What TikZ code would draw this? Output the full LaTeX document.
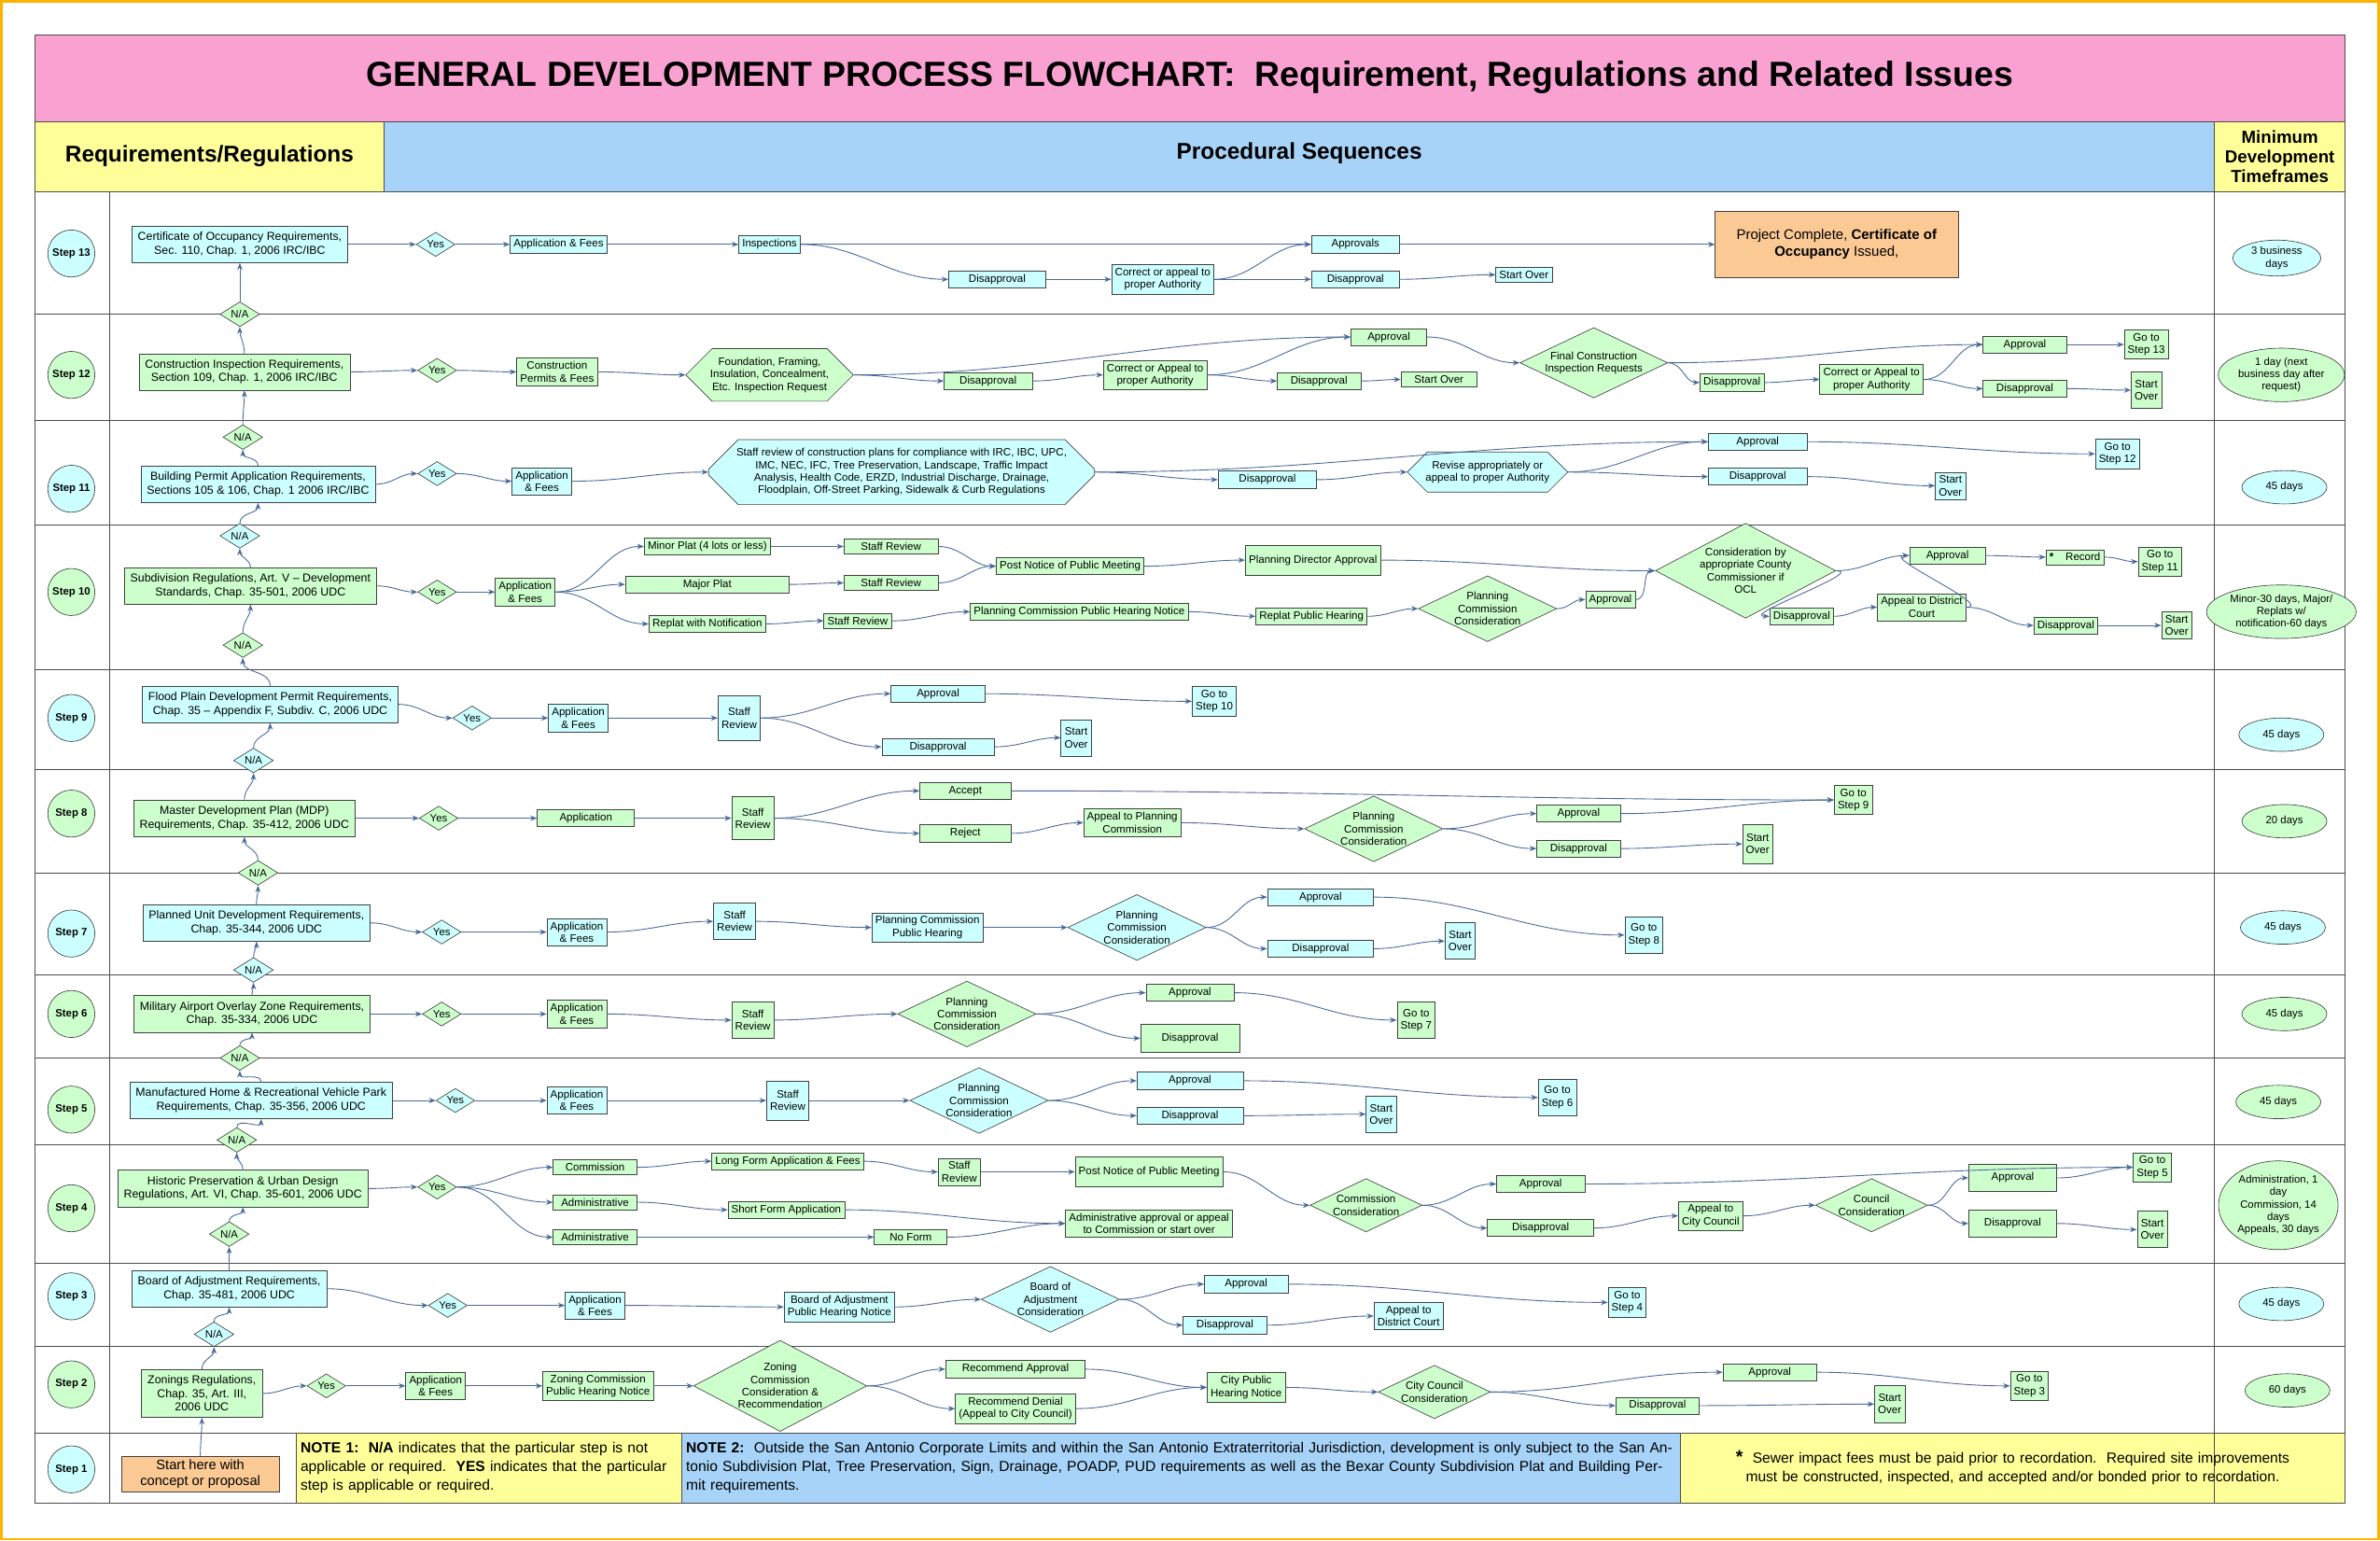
\documentclass[tikz,border=0pt]{standalone}
\usepackage{fontspec}
\setmainfont{Liberation Sans}
\usetikzlibrary{shapes.geometric,shapes.misc,arrows.meta}
\definecolor{pinkT}{HTML}{F9A2D2}
\definecolor{yelH}{HTML}{FFFF99}
\definecolor{bluH}{HTML}{A6D3F7}
\definecolor{cyF}{HTML}{CCFFFF}
\definecolor{grF}{HTML}{CCFFCC}
\definecolor{orF}{HTML}{FBC994}
\definecolor{linec}{HTML}{4A6A9A}
\newcommand\edg[2]{\draw[fl] (#1.east) to[out=0,in=180] (#2.west);}
\tikzset{
 base/.style={draw=black!75,line width=0.4pt,align=center,inner sep=2.3pt,font=\fontsize{7.1}{8.2}\selectfont},
 cb/.style={base,fill=cyF},
 gb/.style={base,fill=grF},
 rq/.style={base,inner sep=4pt,font=\fontsize{7.6}{9}\selectfont},
 dia/.style={base,diamond,aspect=2.1,inner sep=0.3pt},
 hexa/.style={base,chamfered rectangle,chamfered rectangle xsep=16pt},
 yn/.style={base,diamond,aspect=1.6,inner sep=1.2pt,font=\fontsize{7}{8}\selectfont},
 stp/.style={draw=black!75,circle,minimum size=31pt,inner sep=0pt,font=\bfseries\fontsize{7}{8}\selectfont},
 tf/.style={draw=black!75,ellipse,inner sep=1pt,align=center,minimum height=22pt,font=\fontsize{7}{8.2}\selectfont},
 fl/.style={-{Stealth[length=4.5pt,width=3.5pt]},draw=linec,line width=0.55pt},
}
\begin{document}
\begin{tikzpicture}[x=1pt,y=-1pt]
\useasboundingbox (0,0) rectangle (1568,1015);
\draw[draw=orange!60!yellow,line width=1.5pt] (1,1) rectangle (1567,1014);
% bands
\fill[pinkT] (23,23) rectangle (1545,80);
\node[font=\bfseries\fontsize{23}{27}\selectfont] (title) at (784,51) {GENERAL DEVELOPMENT PROCESS FLOWCHART:\ \ Requirement, Regulations and Related Issues};
\fill[yelH] (23,80) rectangle (253,126);
\fill[bluH] (253,80) rectangle (1459,126);
\fill[yelH] (1459,80) rectangle (1545,126);
\node[font=\bfseries\fontsize{15}{18}\selectfont] (hreq) at (138,103) {Requirements/Regulations};
\node[font=\bfseries\fontsize{15}{18}\selectfont] (hproc) at (856,101) {Procedural Sequences};
\node[font=\bfseries\fontsize{11.5}{13}\selectfont,align=center] (htime) at (1502,103) {Minimum\\Development\\Timeframes};
\fill[yelH] (195,944) rectangle (449,990);
\fill[bluH] (449,944) rectangle (1107,990);
\fill[yelH] (1107,944) rectangle (1545,990);
% grid
\draw[black!70,line width=0.5pt] (23,23) rectangle (1545,990);
\foreach \y in {80,126,207,277,346,441,507,575,642,697,754,832,887,944} \draw[black!70,line width=0.5pt] (23,\y) -- (1545,\y);
\draw[black!70,line width=0.5pt] (253,80) -- (253,126) (1459,80) -- (1459,990) (72,126) -- (72,990) (195,944)--(195,990) (449,944)--(449,990) (1107,944)--(1107,990);
% step circles
\foreach \n/\y/\c in {13/167/cyF,12/247/grF,11/322/cyF,10/390/grF,9/473/cyF,8/536/grF,7/615/cyF,6/668/grF,5/731/grF,4/796/grF,3/854/cyF,2/912/grF,1/968/cyF}
  \node[stp,fill=\c] (s\n) at (47,\y) {Step \n};
% timeframes
\node[tf,fill=cyF,minimum width=58pt] (t13) at (1500,170) {3 business\\days};
\node[tf,fill=grF] (t12) at (1503,247) {1 day (next\\business day after\\request)};
\node[tf,fill=cyF,minimum width=56pt] (t11) at (1505,321) {45 days};
\node[tf,fill=grF] (t10) at (1503,403) {Minor-30 days, Major/\\Replats w/\\notification-60 days};
\node[tf,fill=cyF,minimum width=56pt] (t9) at (1503,484) {45 days};
\node[tf,fill=grF,minimum width=56pt] (t8) at (1505,541) {20 days};
\node[tf,fill=cyF,minimum width=56pt] (t7) at (1504,611) {45 days};
\node[tf,fill=grF,minimum width=56pt] (t6) at (1505,668) {45 days};
\node[tf,fill=grF,minimum width=56pt] (t5) at (1501,726) {45 days};
\node[tf,fill=grF] (t4) at (1501,794) {Administration, 1\\day\\Commission, 14\\days\\Appeals, 30 days};
\node[tf,fill=cyF,minimum width=56pt] (t3) at (1503,859) {45 days};
\node[tf,fill=grF,minimum width=56pt] (t2) at (1507,916) {60 days};
% notes
\node[base,draw=black!75,fill=orF,font=\fontsize{9}{10.5}\selectfont,minimum width=104pt] (st1) at (132,971) {Start here with\\concept or proposal};
\node[text width=248pt,align=left,font=\fontsize{9.6}{12.5}\selectfont] (n1) at (322,967) {\textbf{NOTE 1:\ \ N/A} indicates that the particular step is not applicable or required.\ \ \textbf{YES} indicates that the particular step is applicable or required.};
\node[text width=652pt,align=left,font=\fontsize{9.6}{12.5}\selectfont] (n2) at (778,967) {\textbf{NOTE 2:}\ \ Outside the San Antonio Corporate Limits and within the San Antonio Extraterritorial Jurisdiction, development is only subject to the San Antonio Subdivision Plat, Tree Preservation, Sign, Drainage, POADP, PUD requirements as well as the Bexar County Subdivision Plat and Building Permit requirements.};
\node[text width=430pt,align=center,font=\fontsize{9.6}{12.5}\selectfont] (n3) at (1326,967) {\textbf{\large *}\ \ Sewer impact fees must be paid prior to recordation.\ \ Required site improvements must be constructed, inspected, and accepted and/or bonded prior to recordation.};

% ---------- Row 13
\node[rq,fill=cyF] (r13) at (158,161) {Certificate of Occupancy Requirements,\\Sec. 110, Chap. 1, 2006 IRC/IBC};
\node[yn,fill=cyF] (y13) at (287,161) {Yes};
\node[cb] (a13) at (368,161) {Application \& Fees};
\node[cb] (i13) at (507,161) {Inspections};
\node[cb,minimum width=58pt] (ap13) at (893,161) {Approvals};
\node[cb,minimum width=64pt] (d13a) at (657,184) {Disapproval};
\node[cb] (c13) at (766,184) {Correct or appeal to\\proper Authority};
\node[cb,minimum width=58pt] (d13b) at (893,184) {Disapproval};
\node[cb] (s13) at (1004,181) {Start Over};
\node[base,fill=orF,font=\fontsize{9.2}{11}\selectfont,minimum width=160pt,minimum height=44pt] (pc13) at (1210,161) {Project Complete, \textbf{Certificate of}\\\textbf{Occupancy} Issued,};
\edg{r13}{y13}\edg{y13}{a13}\edg{a13}{i13}\edg{i13}{ap13}\edg{i13}{d13a}\edg{d13a}{c13}\edg{c13}{ap13}\edg{c13}{d13b}\edg{d13b}{s13}\edg{ap13}{pc13}
% ---------- Row 12
\node[rq,fill=grF] (r12) at (161,245) {Construction Inspection Requirements,\\Section 109, Chap. 1, 2006 IRC/IBC};
\node[yn,fill=grF] (y12) at (288,244) {Yes};
\node[gb] (a12) at (367,245) {Construction\\Permits \& Fees};
\node[hexa,fill=grF] (h12) at (507,247) {Foundation, Framing,\\Insulation, Concealment,\\Etc. Inspection Request};
\node[gb,minimum width=50pt] (ap12) at (915,222) {Approval};
\node[gb,minimum width=58pt] (d12a) at (651,251) {Disapproval};
\node[gb] (c12) at (761,247) {Correct or Appeal to\\proper Authority};
\node[gb,minimum width=55pt] (d12b) at (869,251) {Disapproval};
\node[gb,minimum width=50pt] (s12) at (948,250) {Start Over};
\node[dia,fill=grF] (f12) at (1050,239) {Final Construction\\Inspection Requests};
\node[gb,minimum width=55pt] (ap12b) at (1334,227) {Approval};
\node[gb] (d12c) at (1141,252) {Disapproval};
\node[gb] (c12b) at (1233,250) {Correct or Appeal to\\proper Authority};
\node[gb,minimum width=55pt] (d12d) at (1334,256) {Disapproval};
\node[gb] (g12) at (1414,227) {Go to\\Step 13};
\node[gb,minimum height=24pt] (s12b) at (1414,257) {Start\\Over};
\edg{r12}{y12}\edg{y12}{a12}\edg{a12}{h12}\edg{h12}{ap12}\edg{h12}{d12a}\edg{d12a}{c12}\edg{c12}{ap12}\edg{c12}{d12b}\edg{d12b}{s12}\edg{ap12}{f12}\edg{f12}{ap12b}\edg{f12}{d12c}\edg{d12c}{c12b}\edg{c12b}{ap12b}\edg{c12b}{d12d}\edg{ap12b}{g12}\edg{d12d}{s12b}
% ---------- Row 11
\node[rq,fill=cyF] (r11) at (170,319) {Building Permit Application Requirements,\\Sections 105 \& 106, Chap. 1 2006 IRC/IBC};
\node[yn,fill=cyF] (y11) at (288,312) {Yes};
\node[cb] (a11) at (357,317) {Application\\\& Fees};
\node[hexa,fill=cyF] (h11) at (594,311) {Staff review of construction plans for compliance with IRC, IBC, UPC,\\IMC, NEC, IFC, Tree Preservation, Landscape, Traffic Impact\\Analysis, Health Code, ERZD, Industrial Discharge, Drainage,\\Floodplain, Off-Street Parking, Sidewalk \& Curb Regulations};
\node[cb,minimum width=65pt] (d11) at (835,316) {Disapproval};
\node[hexa,fill=cyF] (rv11) at (980,311) {Revise appropriately or\\appeal to proper Authority};
\node[cb,minimum width=65pt] (ap11) at (1158,291) {Approval};
\node[cb,minimum width=65pt] (d11b) at (1158,314) {Disapproval};
\node[cb] (g11) at (1395,299) {Go to\\Step 12};
\node[cb] (s11) at (1285,320) {Start\\Over};
\edg{r11}{y11}\edg{y11}{a11}\edg{a11}{h11}\edg{h11}{ap11}\edg{h11}{d11}\edg{d11}{rv11}\edg{rv11}{ap11}\edg{rv11}{d11b}\edg{ap11}{g11}\edg{d11b}{s11}
% ---------- Row 10
\node[rq,fill=grF] (r10) at (165,386) {Subdivision Regulations, Art. V -- Development\\Standards, Chap. 35-501, 2006 UDC};
\node[yn,fill=grF] (y10) at (288,390) {Yes};
\node[gb] (a10) at (346,390) {Application\\\& Fees};
\node[gb] (mi10) at (466,360) {Minor Plat (4 lots or less)};
\node[gb,minimum width=108pt] (ma10) at (466,385) {Major Plat};
\node[gb] (re10) at (466,411) {Replat with Notification};
\node[gb,minimum width=62pt] (sr10a) at (587,360) {Staff Review};
\node[gb,minimum width=62pt] (sr10b) at (587,384) {Staff Review};
\node[gb] (sr10c) at (565,409) {Staff Review};
\node[gb] (pn10) at (705,373) {Post Notice of Public Meeting};
\node[gb] (ph10) at (711,403) {Planning Commission Public Hearing Notice};
\node[gb,minimum height=20pt] (pd10) at (865,369) {Planning Director Approval};
\node[gb] (rp10) at (864,406) {Replat Public Hearing};
\node[dia,fill=grF] (pc10) at (980,401) {Planning\\Commission\\Consideration};
\node[gb] (ap10) at (1061,395) {Approval};
\node[dia,fill=grF,aspect=1.9] (cc10) at (1150,376) {Consideration by\\appropriate County\\Commissioner if\\OCL};
\node[gb] (d10) at (1187,406) {Disapproval};
\node[gb,minimum width=50pt] (ap10b) at (1283,366) {Approval};
\node[gb] (ad10) at (1266,400) {Appeal to District\\Court};
\node[gb] (rec10) at (1367,367) {\textbf{*}\ \ \ \ Record};
\node[gb] (g10) at (1423,370) {Go to\\Step 11};
\node[gb] (d10b) at (1361,412) {Disapproval};
\node[gb] (s10) at (1434,412) {Start\\Over};
\edg{r10}{y10}\edg{y10}{a10}\edg{a10}{mi10}\edg{a10}{ma10}\edg{a10}{re10}\edg{mi10}{sr10a}\edg{ma10}{sr10b}\edg{re10}{sr10c}\edg{sr10a}{pn10}\edg{sr10b}{pn10}\edg{sr10c}{ph10}\edg{pn10}{pd10}\edg{ph10}{rp10}\edg{rp10}{pc10}\edg{pd10}{cc10}\edg{pc10}{ap10}\edg{ap10}{cc10}\edg{cc10}{ap10b}\edg{cc10}{d10}\edg{d10}{ad10}\edg{ad10}{ap10b}\edg{ad10}{d10b}\edg{ap10b}{rec10}\edg{rec10}{g10}\edg{d10b}{s10}
% ---------- Row 9
\node[rq,fill=cyF] (r9) at (178,464) {Flood Plain Development Permit Requirements,\\Chap. 35 -- Appendix F, Subdiv. C, 2006 UDC};
\node[yn,fill=cyF] (y9) at (311,473) {Yes};
\node[cb] (a9) at (381,473) {Application\\\& Fees};
\node[cb,minimum height=30pt] (sr9) at (487,473) {Staff\\Review};
\node[cb,minimum width=62pt] (ap9) at (618,457) {Approval};
\node[cb,minimum width=74pt] (d9) at (618,492) {Disapproval};
\node[cb] (g9) at (800,462) {Go to\\Step 10};
\node[cb,minimum height=24pt] (s9) at (709,486) {Start\\Over};
\edg{r9}{y9}\edg{y9}{a9}\edg{a9}{sr9}\edg{sr9}{ap9}\edg{sr9}{d9}\edg{ap9}{g9}\edg{d9}{s9}
% ---------- Row 8
\node[rq,fill=grF] (r8) at (161,539) {Master Development Plan (MDP)\\Requirements, Chap. 35-412, 2006 UDC};
\node[yn,fill=grF] (y8) at (289,539) {Yes};
\node[gb,minimum width=64pt] (a8) at (386,539) {Application};
\node[gb,minimum height=28pt] (sr8) at (496,539) {Staff\\Review};
\node[gb,minimum width=60pt] (ac8) at (636,521) {Accept};
\node[gb,minimum width=60pt] (rj8) at (636,549) {Reject};
\node[gb] (apl8) at (746,542) {Appeal to Planning\\Commission};
\node[dia,fill=grF] (pc8) at (905,546) {Planning\\Commission\\Consideration};
\node[gb,minimum width=55pt] (ap8) at (1040,536) {Approval};
\node[gb,minimum width=55pt] (d8) at (1040,559) {Disapproval};
\node[gb] (g8) at (1221,527) {Go to\\Step 9};
\node[gb,minimum height=26pt] (s8) at (1158,556) {Start\\Over};
\edg{r8}{y8}\edg{y8}{a8}\edg{a8}{sr8}\edg{sr8}{ac8}\edg{sr8}{rj8}\edg{ac8}{g8}\edg{rj8}{apl8}\edg{apl8}{pc8}\edg{pc8}{ap8}\edg{pc8}{d8}\edg{ap8}{g8}\edg{d8}{s8}
% ---------- Row 7
\node[rq,fill=cyF] (r7) at (169,608) {Planned Unit Development Requirements,\\Chap. 35-344, 2006 UDC};
\node[yn,fill=cyF] (y7) at (291,614) {Yes};
\node[cb] (a7) at (380,614) {Application\\\& Fees};
\node[cb,minimum height=24pt] (sr7) at (484,607) {Staff\\Review};
\node[cb] (ph7) at (611,611) {Planning Commission\\Public Hearing};
\node[dia,fill=cyF] (pc7) at (749,611) {Planning\\Commission\\Consideration};
\node[cb,minimum width=70pt] (ap7) at (870,591) {Approval};
\node[cb,minimum width=70pt] (d7) at (870,625) {Disapproval};
\node[cb,minimum height=24pt] (g7) at (1083,616) {Go to\\Step 8};
\node[cb,minimum height=24pt] (s7) at (962,620) {Start\\Over};
\edg{r7}{y7}\edg{y7}{a7}\edg{a7}{sr7}\edg{sr7}{ph7}\edg{ph7}{pc7}\edg{pc7}{ap7}\edg{pc7}{d7}\edg{ap7}{g7}\edg{d7}{s7}
% ---------- Row 6
\node[rq,fill=grF] (r6) at (166,668) {Military Airport Overlay Zone Requirements,\\Chap. 35-334, 2006 UDC};
\node[yn,fill=grF] (y6) at (291,668) {Yes};
\node[gb] (a6) at (380,668) {Application\\\& Fees};
\node[gb,minimum height=24pt] (sr6) at (496,672) {Staff\\Review};
\node[dia,fill=grF] (pc6) at (637,668) {Planning\\Commission\\Consideration};
\node[gb,minimum width=58pt] (ap6) at (784,654) {Approval};
\node[gb,minimum width=65pt,minimum height=18pt] (d6) at (784,684) {Disapproval};
\node[gb,minimum height=24pt] (g6) at (933,672) {Go to\\Step 7};
\edg{r6}{y6}\edg{y6}{a6}\edg{a6}{sr6}\edg{sr6}{pc6}\edg{pc6}{ap6}\edg{pc6}{d6}\edg{ap6}{g6}
% ---------- Row 5
\node[rq,fill=cyF] (r5) at (172,725) {Manufactured Home \& Recreational Vehicle Park\\Requirements, Chap. 35-356, 2006 UDC};
\node[yn,fill=cyF] (y5) at (300,725) {Yes};
\node[cb] (a5) at (380,725) {Application\\\& Fees};
\node[cb,minimum height=26pt] (sr5) at (519,725) {Staff\\Review};
\node[dia,fill=cyF] (pc5) at (645,725) {Planning\\Commission\\Consideration};
\node[cb,minimum width=70pt] (ap5) at (784,712) {Approval};
\node[cb,minimum width=70pt] (d5) at (784,735) {Disapproval};
\node[cb,minimum height=24pt] (g5) at (1026,723) {Go to\\Step 6};
\node[cb,minimum height=24pt] (s5) at (910,734) {Start\\Over};
\edg{r5}{y5}\edg{y5}{a5}\edg{a5}{sr5}\edg{sr5}{pc5}\edg{pc5}{ap5}\edg{pc5}{d5}\edg{ap5}{g5}\edg{d5}{s5}
% ---------- Row 4
\node[rq,fill=grF] (r4) at (160,783) {Historic Preservation \& Urban Design\\Regulations, Art. VI, Chap. 35-601, 2006 UDC};
\node[yn,fill=grF] (y4) at (288,782) {Yes};
\node[gb,minimum width=55pt] (co4) at (392,769) {Commission};
\node[gb,minimum width=55pt] (ad4a) at (392,792) {Administrative};
\node[gb,minimum width=55pt] (ad4b) at (392,815) {Administrative};
\node[gb] (lf4) at (519,765) {Long Form Application \& Fees};
\node[gb] (sf4) at (518,797) {Short Form Application};
\node[gb,minimum width=48pt] (nf4) at (600,815) {No Form};
\node[gb] (sr4) at (632,772) {Staff\\Review};
\node[gb,minimum height=20pt] (pn4) at (757,772) {Post Notice of Public Meeting};
\node[gb] (aa4) at (757,806) {Administrative approval or appeal\\to Commission or start over};
\node[dia,fill=grF] (cc4) at (900,794) {Commission\\Consideration};
\node[gb,minimum width=58pt] (ap4) at (1015,780) {Approval};
\node[gb,minimum width=70pt] (d4) at (1015,809) {Disapproval};
\node[gb] (ac4) at (1127,801) {Appeal to\\City Council};
\node[dia,fill=grF] (cn4) at (1233,794) {Council\\Consideration};
\node[gb,minimum width=58pt,minimum height=18pt] (ap4b) at (1326,776) {Approval};
\node[gb,minimum width=58pt,minimum height=18pt] (d4b) at (1326,806) {Disapproval};
\node[gb] (g4) at (1418,769) {Go to\\Step 5};
\node[gb,minimum height=24pt] (s4) at (1418,810) {Start\\Over};
\edg{r4}{y4}\edg{y4}{co4}\edg{y4}{ad4a}\edg{y4}{ad4b}\edg{co4}{lf4}\edg{ad4a}{sf4}\edg{ad4b}{nf4}\edg{lf4}{sr4}\edg{sr4}{pn4}\edg{sf4}{aa4}\edg{nf4}{aa4}\edg{pn4}{cc4}\edg{cc4}{ap4}\edg{cc4}{d4}\edg{ap4}{g4}\edg{d4}{ac4}\edg{ac4}{cn4}\edg{cn4}{ap4b}\edg{cn4}{d4b}\edg{ap4b}{g4}\edg{d4b}{s4}
% ---------- Row 3
\node[rq,fill=cyF] (r3) at (151,849) {Board of Adjustment Requirements,\\Chap. 35-481, 2006 UDC};
\node[yn,fill=cyF] (y3) at (295,860) {Yes};
\node[cb] (a3) at (392,860) {Application\\\& Fees};
\node[cb] (bh3) at (553,861) {Board of Adjustment\\Public Hearing Notice};
\node[dia,fill=cyF] (bc3) at (692,856) {Board of\\Adjustment\\Consideration};
\node[cb,minimum width=55pt] (ap3) at (821,846) {Approval};
\node[cb,minimum width=55pt] (d3) at (807,873) {Disapproval};
\node[cb] (ad3) at (928,867) {Appeal to\\District Court};
\node[cb] (g3) at (1072,858) {Go to\\Step 4};
\edg{r3}{y3}\edg{y3}{a3}\edg{a3}{bh3}\edg{bh3}{bc3}\edg{bc3}{ap3}\edg{bc3}{d3}\edg{ap3}{g3}\edg{d3}{ad3}
% ---------- Row 2
\node[rq,fill=grF] (r2) at (133,918) {Zonings Regulations,\\Chap. 35, Art. III,\\2006 UDC};
\node[yn,fill=grF] (y2) at (215,913) {Yes};
\node[gb] (a2) at (287,913) {Application\\\& Fees};
\node[gb] (zh2) at (394,913) {Zoning Commission\\Public Hearing Notice};
\node[dia,fill=grF,aspect=1.9] (zc2) at (514,913) {Zoning\\Commission\\Consideration \&\\Recommendation};
\node[gb,minimum width=92pt] (ra2) at (669,902) {Recommend Approval};
\node[gb] (rd2) at (669,928) {Recommend Denial\\(Appeal to City Council)};
\node[gb] (ch2) at (821,914) {City Public\\Hearing Notice};
\node[dia,fill=grF] (cc2) at (945,917) {City Council\\Consideration};
\node[gb,minimum width=62pt] (ap2) at (1166,904) {Approval};
\node[gb,minimum width=55pt] (d2) at (1092,926) {Disapproval};
\node[gb] (g2) at (1337,913) {Go to\\Step 3};
\node[gb,minimum height=24pt] (s2) at (1245,925) {Start\\Over};
\edg{r2}{y2}\edg{y2}{a2}\edg{a2}{zh2}\edg{zh2}{zc2}\edg{zc2}{ra2}\edg{zc2}{rd2}\edg{ra2}{ch2}\edg{rd2}{ch2}\edg{ch2}{cc2}\edg{cc2}{ap2}\edg{cc2}{d2}\edg{ap2}{g2}\edg{d2}{s2}
% ---------- N/A chain
\foreach \k/\x/\y/\c in {3/141/879/cyF,4/151/813/grF,5/156/751/grF,6/158/697/grF,7/167/639/cyF,8/170/575/grF,9/167/501/cyF,10/160/425/grF,11/158/353/cyF,12/160/288/grF,13/158/207/grF}
  \node[yn,fill=\c] (na\k) at (\x,\y) {N/A};
\draw[fl] (st1.north) to[out=90,in=-90] (r2.south);
\foreach \k [evaluate=\k as \p using int(\k-1)] in {3,...,13}
  {\draw[fl] (r\p.north) to[out=90,in=-90] (na\k.south);
   \draw[fl] (na\k.north) to[out=90,in=-90] (r\k.south);}
\end{tikzpicture}
\end{document}
